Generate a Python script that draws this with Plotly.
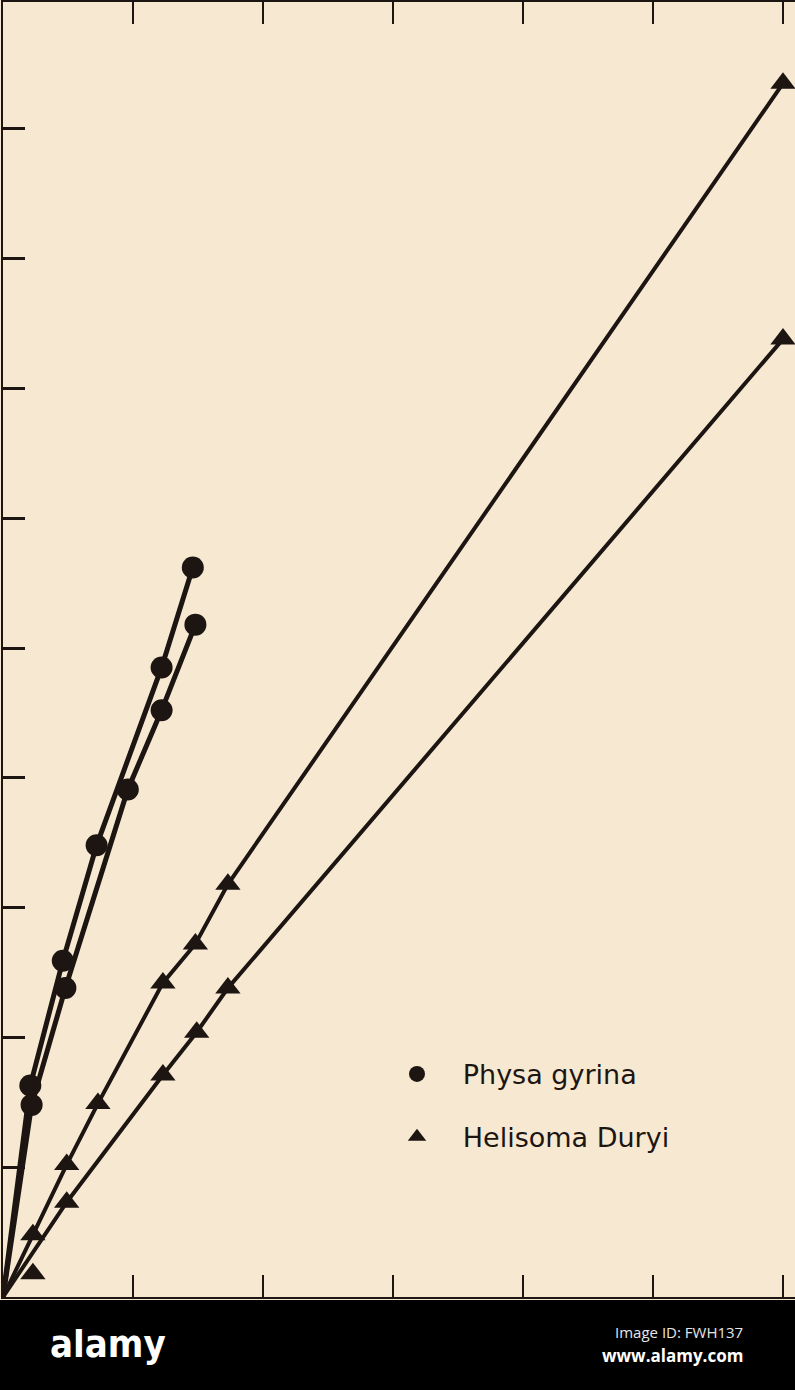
import plotly.graph_objects as go

# ---- data (axis units; ticks at every 1 unit, labels not shown in source) ----
physa_a_x = [0, 0.21, 0.46, 0.72, 1.22, 1.46]
physa_a_y = [0, 1.63, 2.59, 3.48, 4.85, 5.62]

physa_b_x = [0, 0.22, 0.48, 0.96, 1.22, 1.48]
physa_b_y = [0, 1.48, 2.38, 3.91, 4.52, 5.18]

heli_a_x = [0, 0.23, 0.49, 0.73, 1.23, 1.48, 1.73, 6.0]
heli_a_y = [0, 0.48, 1.02, 1.49, 2.42, 2.72, 3.18, 9.35]

heli_b_x = [0, 0.49, 1.23, 1.49, 1.73, 6.0]
heli_b_y = [0, 0.73, 1.71, 2.04, 2.38, 7.38]

heli_extra_x = [0.23]
heli_extra_y = [0.18]

x_ticks = [0, 1, 2, 3, 4, 5, 6]
y_ticks = [1, 2, 3, 4, 5, 6, 7, 8, 9]

legend_names = ["Physa gyrina", "Helisoma Duryi"]

INK = "#1c1512"
BG = "#f7e8d1"

fig = go.Figure()

def line_with_markers(xs, ys, symbol, msize, lw):
    sizes = [0 if (x == 0 and y == 0) else msize for x, y in zip(xs, ys)]
    fig.add_trace(go.Scatter(
        x=xs, y=ys, mode="lines+markers",
        line=dict(color=INK, width=lw),
        marker=dict(symbol=symbol, size=sizes, color=INK, opacity=1, line=dict(width=0)),
        showlegend=False, cliponaxis=False, hoverinfo="skip"))

line_with_markers(physa_a_x, physa_a_y, "circle", 22, 5)
line_with_markers(physa_b_x, physa_b_y, "circle", 22, 5)
line_with_markers(heli_a_x, heli_a_y, "triangle-up", 22, 4)
line_with_markers(heli_b_x, heli_b_y, "triangle-up", 22, 4)
fig.add_trace(go.Scatter(x=heli_extra_x, y=heli_extra_y, mode="markers",
                         marker=dict(symbol="triangle-up", size=22, color=INK, opacity=1),
                         showlegend=False, hoverinfo="skip"))

# legend-only entries
nb = "\u00a0" * 3
fig.add_trace(go.Scatter(x=[None], y=[None], mode="markers", name=nb + legend_names[0],
                         marker=dict(symbol="circle", size=22, color=INK), legend="legend"))
fig.add_trace(go.Scatter(x=[None], y=[None], mode="markers", name=nb + legend_names[1],
                         marker=dict(symbol="triangle-up", size=22, color=INK), legend="legend2"))

W, H = 795, 1390
ml, mr, mt, mb = 3, 0, 0, 93
pw, ph = W - ml - mr, H - mt - mb
unit = 130.0

legend_font = dict(family="'DejaVu Sans', Verdana, sans-serif", size=27, color=INK)
fig.update_layout(
    width=W, height=H,
    margin=dict(l=ml, r=mr, t=mt, b=mb),
    paper_bgcolor=BG, plot_bgcolor=BG,
    legend=dict(x=(397 - ml) / pw, y=(ph - 1074 + mt) / ph, xanchor="left", yanchor="middle",
                bgcolor="rgba(0,0,0,0)", font=legend_font, itemsizing="trace"),
    legend2=dict(x=(397 - ml) / pw, y=(ph - 1137 + mt) / ph, xanchor="left", yanchor="middle",
                 bgcolor="rgba(0,0,0,0)", font=legend_font, itemsizing="trace"),
    xaxis=dict(range=[0, pw / unit], tickvals=x_ticks, showticklabels=False,
               ticks="inside", ticklen=22, tickwidth=2, tickcolor=INK,
               showline=True, linecolor=INK, linewidth=2, mirror="ticks",
               showgrid=False, zeroline=False, fixedrange=True),
    yaxis=dict(range=[0, ph / unit], tickvals=y_ticks, showticklabels=False,
               ticks="inside", ticklen=22, tickwidth=2.5, tickcolor=INK,
               showline=True, linecolor=INK, linewidth=2, mirror=False,
               showgrid=False, zeroline=False, fixedrange=True),
)

# footer band (as in the source image)
fig.add_shape(type="rect", xref="paper", yref="paper",
              x0=-ml / pw, x1=1.0, y0=-3 / ph, y1=-(mb + 5) / ph,
              fillcolor="#000000", line=dict(width=0), layer="above")
fig.add_annotation(xref="paper", yref="paper", x=(48 - ml) / pw, y=-(1344 - ph) / ph,
                   text="<b>alamy</b>", showarrow=False, xanchor="left", yanchor="middle",
                   font=dict(family="'Liberation Sans Narrow', 'DejaVu Sans Condensed', sans-serif",
                             size=38, color="#ffffff"))
fig.add_annotation(xref="paper", yref="paper", x=(745 - ml) / pw, y=-(1332 - ph) / ph,
                   text="Image ID: FWH137", showarrow=False, xanchor="right", yanchor="middle",
                   font=dict(family="'Open Sans', sans-serif", size=15, color="#e6e6e6"))
fig.add_annotation(xref="paper", yref="paper", x=(745 - ml) / pw, y=-(1356 - ph) / ph,
                   text="<b>www.alamy.com</b>", showarrow=False, xanchor="right", yanchor="middle",
                   font=dict(family="'Open Sans', sans-serif", size=17, color="#ffffff"))

fig.write_html("out.html",
               config={"displayModeBar": False},
               post_script="document.body.style.margin='0';document.body.style.padding='0';"
                           "document.documentElement.style.overflow='hidden';")
